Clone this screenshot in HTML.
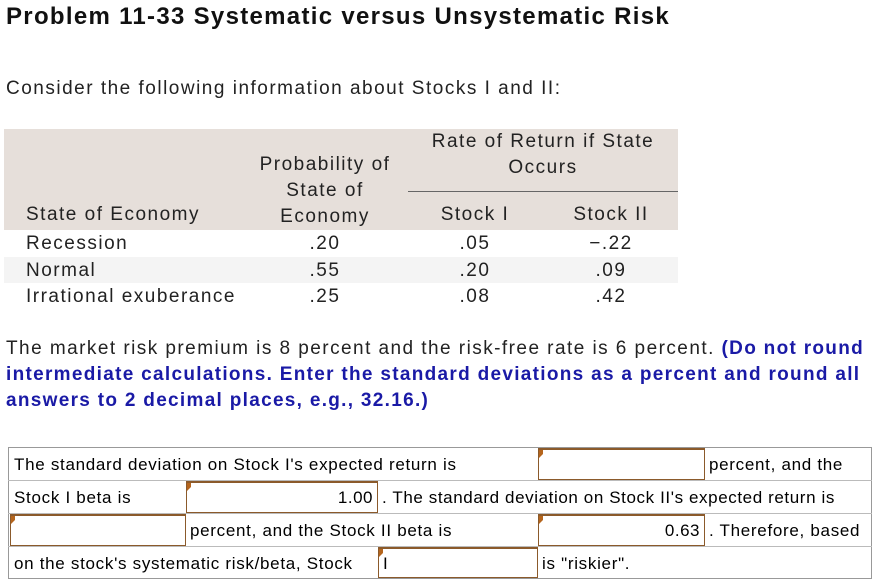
<!DOCTYPE html>
<html><head><style>
body{margin:0;width:875px;height:584px;background:#fff;font-family:"Liberation Sans",sans-serif;color:#222;position:relative;overflow:hidden}
.a{position:absolute;white-space:nowrap}
.t{font-size:19px;letter-spacing:1.5px}
.c{text-align:center}
.bx{position:absolute;border:1px solid #8b5a2b;border-top:2px solid #8b5a2b;box-sizing:border-box;background:#fff;font-size:17px;color:#000;text-align:right;padding-right:4px;line-height:30px;letter-spacing:0.5px}
.bx:before{content:"";position:absolute;left:0;top:0;border-left:4px solid #b5651d;border-bottom:4px solid transparent;height:4px}
.q{font-size:17px;color:#000;letter-spacing:0.7px}
.cell{position:absolute;border:1px solid #bbb;box-sizing:border-box}
</style></head><body>
<div class="a" style="left:6px;top:3px;font-size:24px;font-weight:bold;color:#111;letter-spacing:1.3px">Problem 11-33 Systematic versus Unsystematic Risk</div>
<div class="a t" style="left:6px;top:78px">Consider the following information about Stocks I and II:</div>
<div class="a" style="left:4px;top:129px;width:674px;height:101px;background:#e6dfda"></div>
<div class="a" style="left:4px;top:257px;width:674px;height:26px;background:#f4f4f4"></div>
<div class="a" style="left:408px;top:191px;width:270px;height:1px;background:#666"></div>
<div class="a t c" style="left:408px;top:129px;width:270px;line-height:26px">Rate of Return if State<br>Occurs</div>
<div class="a t c" style="left:240px;top:152px;width:170px;line-height:26px">Probability of<br>State of<br>Economy</div>
<div class="a t" style="left:26px;top:204px">State of Economy</div>
<div class="a t c" style="left:420px;top:204px;width:110px">Stock I</div>
<div class="a t c" style="left:556px;top:204px;width:110px">Stock II</div>
<div class="a t" style="left:26px;top:231px;line-height:26.5px">Recession<br>Normal<br>Irrational exuberance</div>
<div class="a t c" style="left:270px;top:231px;width:110px;line-height:26.5px">.20<br>.55<br>.25</div>
<div class="a t c" style="left:420px;top:231px;width:110px;line-height:26.5px">.05<br>.20<br>.08</div>
<div class="a t c" style="left:556px;top:231px;width:110px;line-height:26.5px">−.22<br>.09<br>.42</div>
<div class="a t" style="left:6px;top:336px;line-height:26px;letter-spacing:1.45px">The market risk premium is 8 percent and the risk-free rate is 6 percent. <b style="color:#1a1aa6;letter-spacing:1.3px">(Do not round<br>intermediate calculations. Enter the standard deviations as a percent and round all<br>answers to 2 decimal places, e.g., 32.16.)</b></div>

<div class="cell" style="left:8px;top:447px;width:864px;height:132px;border-color:#999"></div>
<div class="cell" style="left:8px;top:480px;width:864px;height:1px;border-width:1px 0 0"></div>
<div class="cell" style="left:8px;top:513px;width:864px;height:1px;border-width:1px 0 0"></div>
<div class="cell" style="left:8px;top:546px;width:864px;height:1px;border-width:1px 0 0"></div>

<div class="a q" style="left:14px;top:455px">The standard deviation on Stock I's expected return is</div>
<div class="bx" style="left:538px;top:448px;width:167px;height:32px"></div>
<div class="a q" style="left:709px;top:455px">percent, and the</div>
<div class="a q" style="left:14px;top:488px">Stock I beta is</div>
<div class="bx" style="left:186px;top:481px;width:192px;height:32px">1.00</div>
<div class="a q" style="left:382px;top:488px;letter-spacing:0.6px">. The standard deviation on Stock II's expected return is</div>
<div class="bx" style="left:10px;top:514px;width:176px;height:32px"></div>
<div class="a q" style="left:190px;top:521px">percent, and the Stock II beta is</div>
<div class="bx" style="left:538px;top:514px;width:167px;height:32px">0.63</div>
<div class="a q" style="left:709px;top:521px">. Therefore, based</div>
<div class="a q" style="left:14px;top:554px">on the stock's systematic risk/beta, Stock</div>
<div class="bx" style="left:378px;top:547px;width:160px;height:31px;text-align:left;padding-left:4px">I</div>
<div class="a q" style="left:542px;top:554px">is "riskier".</div>
</body></html>
